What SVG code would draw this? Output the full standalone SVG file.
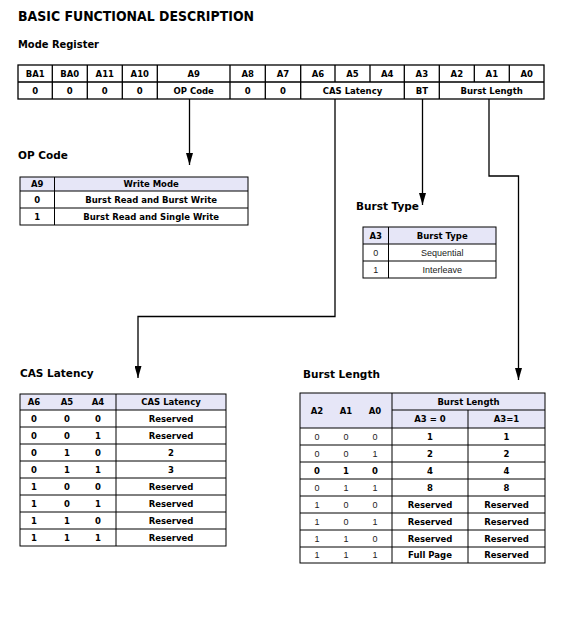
<svg xmlns="http://www.w3.org/2000/svg" width="579" height="627" viewBox="0 0 579 627">
<style>
.t{font-family:"DejaVu Sans",Verdana,sans-serif;font-weight:bold;font-size:8.5px;text-anchor:middle;fill:#000}
.n{font-family:"Liberation Sans",Arial,sans-serif;font-size:9px;text-anchor:middle;fill:#222}
.h{font-family:"DejaVu Sans",Verdana,sans-serif;font-weight:bold;font-size:10.5px;fill:#000}
.ttl{font-family:"DejaVu Sans",Verdana,sans-serif;font-weight:bold;font-size:14px;fill:#000}
.hdr{fill:#e6e6f7;stroke:none}
.b{fill:none;stroke:#000;stroke-width:1}
.m{fill:none;stroke:#000;stroke-width:1.3}
.c{fill:none;stroke:#000;stroke-width:1.3}
</style>
<defs>
<marker id="ah" viewBox="0 0 12 7" refX="12" refY="3.5" markerWidth="12" markerHeight="7" markerUnits="userSpaceOnUse" orient="auto">
<path d="M0,0 L12,3.5 L0,7 z" fill="#000"/>
</marker>
</defs>
<rect width="579" height="627" fill="#fff"/>

<g id="title">
<text class="ttl" x="18" y="21" textLength="236" lengthAdjust="spacingAndGlyphs">BASIC FUNCTIONAL DESCRIPTION</text>
</g>

<g id="mode-register">
<text class="h" x="18" y="48" textLength="81" lengthAdjust="spacingAndGlyphs">Mode Register</text>
<rect class="m" x="18" y="65" width="526" height="34"/>
<path class="m" d="M18 82H544 M52.3 65V99 M87.3 65V99 M122.3 65V99 M157.3 65V99 M230 65V99 M265.3 65V99 M300.7 65V99 M335 65V82 M370 65V82 M404.3 65V99 M439.3 65V99 M474.3 65V82 M509.3 65V82"/>
<g class="t">
<text x="35.2" y="76.6">BA1</text><text x="69.8" y="76.6">BA0</text><text x="104.8" y="76.6">A11</text><text x="139.8" y="76.6">A10</text>
<text x="193.7" y="76.6">A9</text><text x="247.7" y="76.6">A8</text><text x="283" y="76.6">A7</text><text x="317.9" y="76.6">A6</text>
<text x="352.5" y="76.6">A5</text><text x="387.2" y="76.6">A4</text><text x="421.8" y="76.6">A3</text><text x="456.8" y="76.6">A2</text>
<text x="491.8" y="76.6">A1</text><text x="526.7" y="76.6">A0</text>
<text x="35.2" y="93.8">0</text><text x="69.8" y="93.8">0</text><text x="104.8" y="93.8">0</text><text x="139.8" y="93.8">0</text>
<text x="193.7" y="93.8">OP Code</text><text x="247.7" y="93.8">0</text><text x="283" y="93.8">0</text>
<text x="352.5" y="93.8">CAS Latency</text><text x="421.8" y="93.8">BT</text><text x="491.7" y="93.8">Burst Length</text>
</g>
</g>

<g id="connectors">
<path class="c" d="M189.5 99V165" marker-end="url(#ah)"/>
<path class="c" d="M335 99V316.5H138V378" marker-end="url(#ah)"/>
<path class="c" d="M422.5 99V205" marker-end="url(#ah)"/>
<path class="c" d="M489 99V176H518.5V380" marker-end="url(#ah)"/>
</g>

<g id="op-code">
<text class="h" x="18" y="159">OP Code</text>
<rect class="hdr" x="20" y="177" width="228" height="14"/>
<rect class="b" x="20" y="177" width="228" height="48"/>
<path class="b" d="M54.5 177V225 M20 191H248 M20 208H248"/>
<g class="t">
<text x="37.2" y="187.1">A9</text><text x="151.2" y="187.1">Write Mode</text>
<text x="37.2" y="202.6">0</text><text x="151.2" y="202.6">Burst Read and Burst Write</text>
<text x="37.2" y="219.6">1</text><text x="151.2" y="219.6">Burst Read and Single Write</text>
</g>
</g>

<g id="burst-type">
<text class="h" x="356" y="210">Burst Type</text>
<rect class="hdr" x="363" y="227" width="133" height="17"/>
<rect class="b" x="363" y="227" width="133" height="51"/>
<path class="b" d="M388.5 227V278 M363 244H496 M363 261H496"/>
<text class="t" x="375.7" y="238.6">A3</text><text class="t" x="442.2" y="238.6">Burst Type</text>
<g class="n">
<text x="375.7" y="255.7">0</text><text x="442.2" y="255.7">Sequential</text>
<text x="375.7" y="272.7">1</text><text x="442.2" y="272.7">Interleave</text>
</g>
</g>

<g id="cas-latency">
<text class="h" x="20" y="377">CAS Latency</text>
<rect class="hdr" x="20" y="394" width="206" height="16"/>
<rect class="b" x="20" y="394" width="206" height="152"/>
<path class="b" d="M116 394V546 M20 410H226 M20 427H226 M20 444H226 M20 461H226 M20 478H226 M20 495H226 M20 512H226 M20 529H226"/>
<g class="t">
<text x="34" y="405.1">A6</text><text x="67" y="405.1">A5</text><text x="98" y="405.1">A4</text><text x="171" y="405.1">CAS Latency</text>
<text x="34" y="421.6">0</text><text x="67" y="421.6">0</text><text x="98" y="421.6">0</text><text x="171" y="421.6">Reserved</text>
<text x="34" y="438.6">0</text><text x="67" y="438.6">0</text><text x="98" y="438.6">1</text><text x="171" y="438.6">Reserved</text>
<text x="34" y="455.6">0</text><text x="67" y="455.6">1</text><text x="98" y="455.6">0</text><text x="171" y="455.6">2</text>
<text x="34" y="472.6">0</text><text x="67" y="472.6">1</text><text x="98" y="472.6">1</text><text x="171" y="472.6">3</text>
<text x="34" y="489.6">1</text><text x="67" y="489.6">0</text><text x="98" y="489.6">0</text><text x="171" y="489.6">Reserved</text>
<text x="34" y="506.6">1</text><text x="67" y="506.6">0</text><text x="98" y="506.6">1</text><text x="171" y="506.6">Reserved</text>
<text x="34" y="523.6">1</text><text x="67" y="523.6">1</text><text x="98" y="523.6">0</text><text x="171" y="523.6">Reserved</text>
<text x="34" y="540.6">1</text><text x="67" y="540.6">1</text><text x="98" y="540.6">1</text><text x="171" y="540.6">Reserved</text>
</g>
</g>

<g id="burst-length">
<text class="h" x="303" y="378">Burst Length</text>
<rect class="hdr" x="300" y="393" width="245" height="35"/>
<rect class="b" x="300" y="393" width="245" height="170"/>
<path class="b" d="M392 393V563 M468 410V563 M392 410H545 M300 428H545 M300 445H545 M300 462H545 M300 479H545 M300 496H545 M300 513H545 M300 530H545 M300 547H545"/>
<g class="t">
<text x="317" y="414">A2</text><text x="346" y="414">A1</text><text x="375" y="414">A0</text>
<text x="468.5" y="404.6">Burst Length</text>
<text x="430" y="422.1">A3 = 0</text><text x="506.5" y="422.1">A3=1</text>
</g>
<g class="n">
<text x="317" y="439.6">0</text><text x="346" y="439.6">0</text><text x="375" y="439.6">0</text>
<text x="317" y="456.6">0</text><text x="346" y="456.6">0</text><text x="375" y="456.6">1</text>
<text x="317" y="490.6">0</text><text x="346" y="490.6">1</text><text x="375" y="490.6">1</text>
<text x="317" y="507.6">1</text><text x="346" y="507.6">0</text><text x="375" y="507.6">0</text>
<text x="317" y="524.6">1</text><text x="346" y="524.6">0</text><text x="375" y="524.6">1</text>
<text x="317" y="541.6">1</text><text x="346" y="541.6">1</text><text x="375" y="541.6">0</text>
<text x="317" y="558.1">1</text><text x="346" y="558.1">1</text><text x="375" y="558.1">1</text>
</g>
<g class="t">
<text x="317" y="473.6">0</text><text x="346" y="473.6">1</text><text x="375" y="473.6">0</text>
<text x="430" y="439.6">1</text><text x="506.5" y="439.6">1</text>
<text x="430" y="456.6">2</text><text x="506.5" y="456.6">2</text>
<text x="430" y="473.6">4</text><text x="506.5" y="473.6">4</text>
<text x="430" y="490.6">8</text><text x="506.5" y="490.6">8</text>
<text x="430" y="507.6">Reserved</text><text x="506.5" y="507.6">Reserved</text>
<text x="430" y="524.6">Reserved</text><text x="506.5" y="524.6">Reserved</text>
<text x="430" y="541.6">Reserved</text><text x="506.5" y="541.6">Reserved</text>
<text x="430" y="558.1">Full Page</text><text x="506.5" y="558.1">Reserved</text>
</g>
</g>
</svg>
